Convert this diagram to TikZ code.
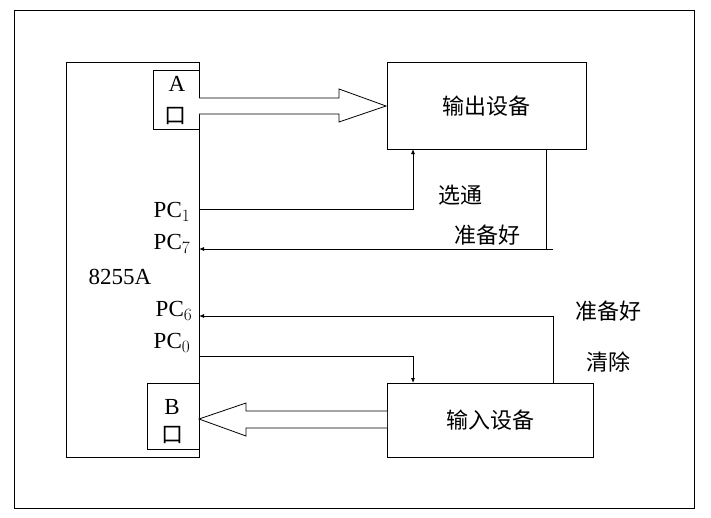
\documentclass[tikz,border=0pt]{standalone}
\usepackage{fontspec}
\setmainfont{Liberation Serif}
\newfontfamily\cjk{Noto Sans CJK SC}
\usetikzlibrary{calc}
\usetikzlibrary{arrows.meta}
\tikzset{>=latex}
\tikzset{
  box/.style={draw, thick, inner sep=0pt, anchor=north west},
  lbl/.style={font=\fontsize{23}{26}\selectfont},
  zh/.style={font=\cjk\fontsize{22}{26}\selectfont},
  sig/.style={-{Latex[length=5pt,width=4pt]}, thick},
  fat/.style={thick, fill=white},
}

\begin{document}
\begin{tikzpicture}[x=1pt, y=-1pt]
    \useasboundingbox (0,0) rectangle (711,517);
    \draw[thick] (14,10) rectangle (694,508);

    % chip and ports
    \node[box, minimum width=133pt, minimum height=395pt] (chip) at (66,62) {};
    \node[box, minimum width=46pt, minimum height=59pt] (pa) at (153,70) {};
    \node[box, minimum width=52pt, minimum height=66pt] (pb) at (147,383) {};
    \node[lbl] at (177,84) {A};
    \node[zh]  at (175,116) {口};
    \node[lbl] at (172,407) {B};
    \node[zh]  at (172,435) {口};

    % devices
    \node[box, minimum width=199pt, minimum height=87pt] (out) at (387,62) {};
    \node[box, minimum width=206pt, minimum height=74pt] (in) at (387,383) {};
    \node[zh] at (out.center) {输出设备};
    \node[zh] at (in.center) {输入设备};

    % pin labels
    \node[lbl] (pc1) at (172,212) {PC$_1$};
    \node[lbl] (pc7) at (172,244) {PC$_7$};
    \node[lbl] (chipname) at (120,277) {8255A};
    \node[lbl] (pc6) at (174,311) {PC$_6$};
    \node[lbl] (pc0) at (172,343) {PC$_0$};

    % wide data arrows
    \draw[fat] (199,98) -- (339,98) -- (339,89) -- (386,106)
        -- (339,122) -- (339,114) -- (199,114);
    \draw[fat] (387,411) -- (246,411) -- (246,403) -- (199,419)
        -- (246,436) -- (246,428) -- (387,428);

    % handshake lines
    \coordinate (c1) at (199,209);
    \coordinate (c7) at (553,249);
    \coordinate (c6) at (553,316);
    \coordinate (c0) at (199,356);
    \draw[sig] (c1) -| (413,149);
    \draw[thick] (546,149) -- (546,249);
    \draw[sig] (c7) -- (199,249);
    \draw[sig] (553,383) -- (c6) -- (199,316);
    \draw[sig] (c0) -| (413,383);

    \node[zh] at (460,195) {选通};
    \node[zh] at (487,235) {准备好};
    \node[zh] at (608,311) {准备好};
    \node[zh] at (608,362) {清除};
\end{tikzpicture}
\end{document}
